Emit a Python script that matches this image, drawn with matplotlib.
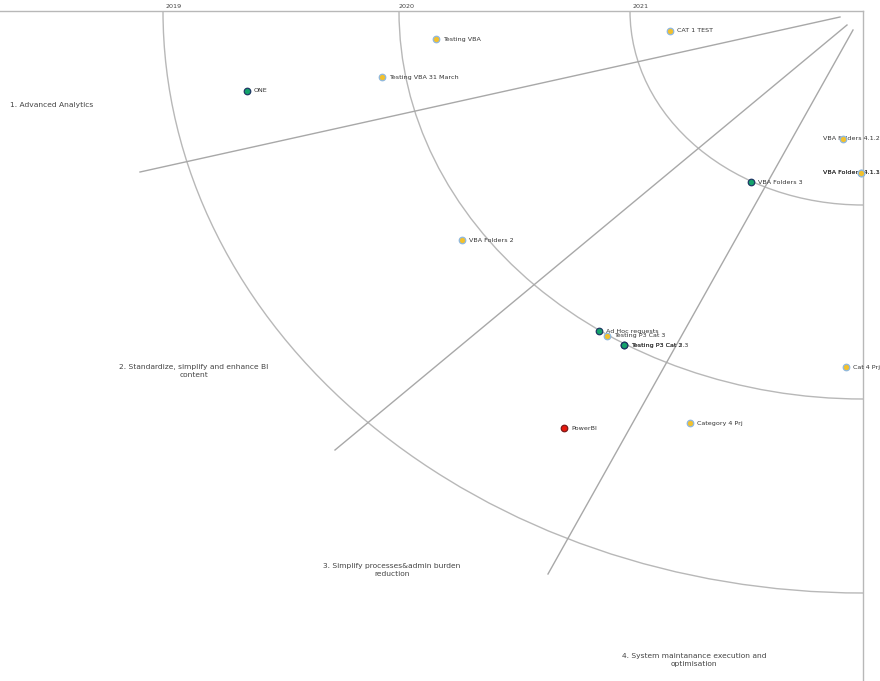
import matplotlib
matplotlib.use("Agg")
import matplotlib.pyplot as plt
from matplotlib.patches import Arc

# chart frame (pixel-space units)
center = (863, 11)
years = ["2019", "2020", "2021"]
year_rx = [700, 464, 233]
year_ry = [582, 388, 194]
year_label_x = [174, 407, 641]

spokes = [((140, 172), (840, 17)), ((335, 450), (847, 25)), ((548, 574), (853, 30))]

categories = ["1. Advanced Analytics",
              "2. Standardize, simplify and enhance BI\ncontent",
              "3. Simplify processes&admin burden\nreduction",
              "4. System maintanance execution and\noptimisation"]
cat_x = [52, 194, 392, 694]
cat_y = [105, 371, 570, 660]

labels = ["Testing VBA", "CAT 1 TEST", "Testing VBA 31 March", "ONE", "VBA Folders 4.1.2",
          "VBA Folders 4.1.1", "VBA Folders 4.1.3", "VBA Folders 3", "VBA Folders 2",
          "Ad Hoc requests", "Testing P3 Cat 3", "Testing P3 Cat 2", "Testing P3 Cat 3.3",
          "Cat 4 Prj", "Category 4 Prj", "PowerBI"]
px = [436, 670, 382, 247, 843, 861, 861, 751, 462, 599, 607, 624, 624, 846, 690, 564]
py = [39, 31, 77, 91, 139, 173, 173, 182, 240, 331, 336, 345, 345, 367, 423, 428]
status = ["y", "y", "y", "g", "y", "y", "y", "g", "y", "g", "y", "g", "g", "y", "y", "r"]

face = {"y": "#f2c12e", "g": "#13a36b", "r": "#e8180c"}
edge = {"y": "#8fb8de", "g": "#1f3864", "r": "#7a1a1a"}

fig = plt.figure(figsize=(8.8, 6.81), dpi=100)
ax = fig.add_axes([0, 0, 1, 1])
ax.set_xlim(0, 880)
ax.set_ylim(681, 0)
ax.axis("off")

gc = "#b8b8b8"
ax.plot([0, center[0]], [center[1], center[1]], color=gc, lw=1)
ax.plot([center[0], center[0]], [center[1], 681], color=gc, lw=1)
for rx, ry in zip(year_rx, year_ry):
    ax.add_patch(Arc(center, 2 * rx, 2 * ry, theta1=90, theta2=180, color=gc, lw=1))
for yl, xx in zip(years, year_label_x):
    ax.text(xx, 9, yl, fontsize=4.6, ha="center", va="bottom", color="#444444")
for (a, b) in spokes:
    ax.plot([a[0], b[0]], [a[1], b[1]], color="#a8a8a8", lw=1)

for c, x, y in zip(categories, cat_x, cat_y):
    ax.text(x, y, c, fontsize=5.4, ha="center", va="center", color="#444444", linespacing=1.3)

for lab, x, y, s in zip(labels, px, py, status):
    ax.scatter([x], [y], s=22, c=face[s], edgecolors=edge[s], linewidths=0.9, zorder=3)
    if x > 830:
        tx, ha = 880, "right"
    else:
        tx, ha = x + 7, "left"
    ax.text(tx, y, lab, fontsize=4.6, ha=ha, va="center", color="#333333", zorder=2)

fig.savefig("out.png", dpi=100)
